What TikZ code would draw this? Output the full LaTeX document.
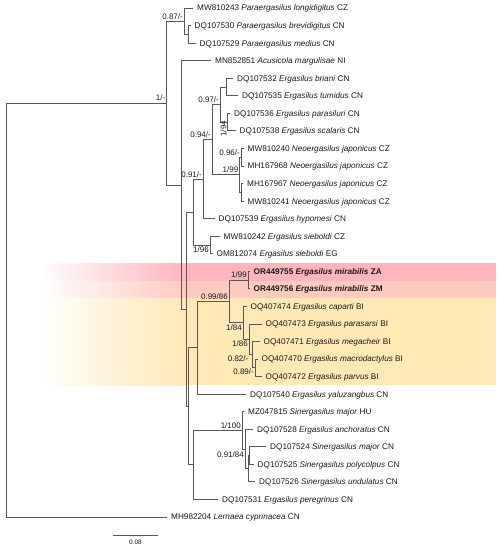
\documentclass[tikz,border=0pt]{standalone}
\usepackage{fontspec}
\setmainfont{Liberation Sans}
\usetikzlibrary{calc}
\definecolor{linec}{HTML}{585858}
\definecolor{textc}{HTML}{1A1A1A}
\definecolor{bandred}{HTML}{FFB5BC}
\definecolor{bandsal}{HTML}{FFCAC0}
\definecolor{bandyel}{HTML}{FFE9B5}
\tikzset{
  br/.style={draw=linec, line width=0.8pt},
  tiplab/.style={anchor=west, inner xsep=4pt, inner ysep=0pt, text height=5.9pt, text depth=0pt, font=\fontsize{8.2}{9.5}\selectfont, text=textc},
  sup/.style={anchor=south east, inner xsep=1pt, inner ysep=1.8pt, font=\fontsize{8}{9}\selectfont, text=textc},
  supb/.style={anchor=north east, inner xsep=1pt, inner ysep=1.2pt, font=\fontsize{8}{9}\selectfont, text=textc},
  suprot/.style={inner sep=0pt, rotate=90, font=\fontsize{8}{9}\selectfont, text=textc},
}
\begin{document}
\begin{tikzpicture}[x=1pt,y=-1pt]
\useasboundingbox (0,0) rectangle (500,550);
% highlight bands
\shade[left color=white, right color=bandred] (40,263) rectangle (186,281);
\fill[bandred] (185.5,263) rectangle (496,281);
\shade[left color=white, right color=bandsal] (40,281) rectangle (186,298);
\fill[bandsal] (185.5,281) rectangle (496,298);
\shade[left color=white, right color=bandyel] (40,298) rectangle (186,385);
\fill[bandyel] (185.5,298) rectangle (496,385);
% internal nodes
\coordinate (R) at (6,310);
\coordinate (N1) at (166.5,103.03);
\coordinate (P) at (184,21.16);
\coordinate (P2) at (188,34.33);
\coordinate (A) at (181,184.9);
\coordinate (B) at (186,309.15);
\coordinate (C) at (193,212.0);
\coordinate (N91) at (203,179.1);
\coordinate (N94b) at (212,139.63);
\coordinate (N97) at (220,104.53);
\coordinate (Nbr) at (226,86.98);
\coordinate (N94) at (227,122.08);
\coordinate (N99) at (239.5,174.73);
\coordinate (Nj1) at (241,157.18);
\coordinate (Nj2) at (241,192.28);
\coordinate (Nsie) at (210,244.93);
\coordinate (V) at (188,406.3);
\coordinate (Nyal) at (197,347.75);
\coordinate (N9986) at (229,301.4);
\coordinate (Nmir) at (248,280.03);
\coordinate (N84) at (243,322.8);
\coordinate (N86) at (249,339.25);
\coordinate (N82) at (252,354.6);
\coordinate (N89) at (255,367.78);
\coordinate (W) at (193,464.85);
\coordinate (N100) at (242,430.3);
\coordinate (X) at (245,448.95);
\coordinate (Y) at (248,468.69);
\coordinate (Z) at (249.5,455.53);
% tips
\coordinate (t1) at (193,8.0);
\coordinate (t2) at (190.5,25.55);
\coordinate (t3) at (195.5,43.1);
\coordinate (t4) at (211,60.65);
\coordinate (t5) at (233,78.2);
\coordinate (t6) at (238,95.75);
\coordinate (t7) at (230,113.3);
\coordinate (t8) at (235.5,130.85);
\coordinate (t9) at (243.5,148.4);
\coordinate (t10) at (243.5,165.95);
\coordinate (t11) at (243,183.5);
\coordinate (t12) at (243.5,201.05);
\coordinate (t13) at (214.5,218.6);
\coordinate (t14) at (219.5,236.15);
\coordinate (t15) at (212.5,253.7);
\coordinate (t16) at (249.5,271.25);
\coordinate (t17) at (249.5,288.8);
\coordinate (t18) at (246.5,306.35);
\coordinate (t19) at (261.5,323.9);
\coordinate (t20) at (259.5,341.45);
\coordinate (t21) at (257.5,359.0);
\coordinate (t22) at (261.5,376.55);
\coordinate (t23) at (246,394.1);
\coordinate (t24) at (244,411.65);
\coordinate (t25) at (253,429.2);
\coordinate (t26) at (266,446.75);
\coordinate (t27) at (253.5,464.3);
\coordinate (t28) at (255,481.85);
\coordinate (t29) at (218,499.4);
\coordinate (t30) at (167,516.95);
% branches
\foreach \a/\b in {R/N1,R/t30,N1/P,N1/A,P/t1,P/P2,P2/t2,P2/t3,A/t4,A/B,B/C,B/V,
  C/N91,C/Nsie,N91/N94b,N91/t13,N94b/N97,N94b/N99,N97/Nbr,N97/N94,Nbr/t5,Nbr/t6,
  N94/t7,N94/t8,N99/Nj1,N99/Nj2,Nj1/t9,Nj1/t10,Nj2/t11,Nj2/t12,Nsie/t14,Nsie/t15,
  V/Nyal,V/W,Nyal/N9986,Nyal/t23,N9986/Nmir,N9986/N84,Nmir/t16,Nmir/t17,
  N84/t18,N84/N86,N86/t19,N86/N82,N82/t20,N82/N89,N89/t21,N89/t22,
  W/N100,W/t29,N100/t24,N100/X,X/t25,X/Y,Y/Z,Y/t28,Z/t26,Z/t27}
  \draw[br] (\a) |- (\b);
% tip labels
\node[tiplab] (l1) at (t1) {MW810243 \textit{Paraergasilus longidigitus} CZ};
\node[tiplab] (l2) at (t2) {DQ107530 \textit{Paraergasilus brevidigitus} CN};
\node[tiplab] (l3) at (t3) {DQ107529 \textit{Paraergasilus medius} CN};
\node[tiplab] (l4) at (t4) {MN852851 \textit{Acusicola margulisae} NI};
\node[tiplab] (l5) at (t5) {DQ107532 \textit{Ergasilus briani} CN};
\node[tiplab] (l6) at (t6) {DQ107535 \textit{Ergasilus tumidus} CN};
\node[tiplab] (l7) at (t7) {DQ107536 \textit{Ergasilus parasiluri} CN};
\node[tiplab] (l8) at (t8) {DQ107538 \textit{Ergasilus scalaris} CN};
\node[tiplab] (l9) at (t9) {MW810240 \textit{Neoergasilus japonicus} CZ};
\node[tiplab] (l10) at (t10) {MH167968 \textit{Neoergasilus japonicus} CZ};
\node[tiplab] (l11) at (t11) {MH167967 \textit{Neoergasilus japonicus} CZ};
\node[tiplab] (l12) at (t12) {MW810241 \textit{Neoergasilus japonicus} CZ};
\node[tiplab] (l13) at (t13) {DQ107539 \textit{Ergasilus hypomesi} CN};
\node[tiplab] (l14) at (t14) {MW810242 \textit{Ergasilus sieboldi} CZ};
\node[tiplab] (l15) at (t15) {OM812074 \textit{Ergasilus sieboldi} EG};
\node[tiplab] (l16) at (t16) {\bfseries OR449755 \textit{Ergasilus mirabilis} ZA};
\node[tiplab] (l17) at (t17) {\bfseries OR449756 \textit{Ergasilus mirabilis} ZM};
\node[tiplab] (l18) at (t18) {OQ407474 \textit{Ergasilus caparti} BI};
\node[tiplab] (l19) at (t19) {OQ407473 \textit{Ergasilus parasarsi} BI};
\node[tiplab] (l20) at (t20) {OQ407471 \textit{Ergasilus megacheir} BI};
\node[tiplab] (l21) at (t21) {OQ407470 \textit{Ergasilus macrodactylus} BI};
\node[tiplab] (l22) at (t22) {OQ407472 \textit{Ergasilus parvus} BI};
\node[tiplab] (l23) at (t23) {DQ107540 \textit{Ergasilus yaluzangbus} CN};
\node[tiplab] (l24) at (t24) {MZ047815 \textit{Sinergasilus major} HU};
\node[tiplab] (l25) at (t25) {DQ107528 \textit{Ergasilus anchoratus} CN};
\node[tiplab] (l26) at (t26) {DQ107524 \textit{Sinergasilus major} CN};
\node[tiplab] (l27) at (t27) {DQ107525 \textit{Sinergasilus polycolpus} CN};
\node[tiplab] (l28) at (t28) {DQ107526 \textit{Sinergasilus undulatus} CN};
\node[tiplab] (l29) at (t29) {DQ107531 \textit{Ergasilus peregrinus} CN};
\node[tiplab] (l30) at (t30) {MH982204 \textit{Lernaea cyprinacea} CN};
% support values
\node[sup] (s1) at (N1) {1/-};
\node[sup] (s2) at (P) {0.87/-};
\node[sup] (s3) at (N97) {0.97/-};
\node[suprot] (s4) at ([shift={(-3.5,6.8)}]N94) {1/94};
\node[sup] (s5) at (N94b) {0.94/-};
\node[sup] (s6) at (Nj1) {0.96/-};
\node[sup] (s7) at (N99) {1/99};
\node[sup] (s8) at (N91) {0.91/-};
\node[supb] (s9) at (Nsie) {1/96};
\node[sup] (s10) at (Nmir) {1/99};
\node[sup] (s11) at (N9986) {0.99/86};
\node[supb] (s12) at (N84) {1/84};
\node[supb] (s13) at (N86) {1/86};
\node[supb, xshift=-2.5pt] (s14) at (N82) {0.82/-};
\node[supb] (s15) at (N89) {0.89/-};
\node[sup] (s16) at (N100) {1/100};
\node[supb, yshift=-1.5pt] (s17) at (X) {0.91/84};
% scale bar
\coordinate (sb1) at (113,535);
\coordinate (sb2) at (158,535);
\draw[br] (sb1) -- (sb2);
\node[font=\fontsize{6.5}{8}\selectfont, text=textc, anchor=north, inner sep=0pt] (sbl) at ([yshift=-5pt]$(sb1)!0.5!(sb2)$) {0.08};
\end{tikzpicture}
\end{document}
